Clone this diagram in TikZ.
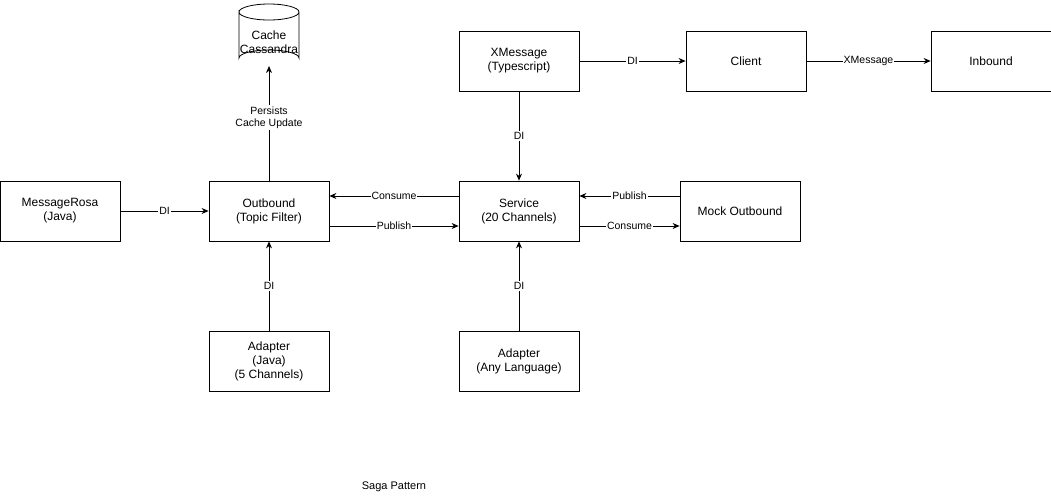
\documentclass[tikz,border=0pt]{standalone}
\usepackage{fontspec}
\setmainfont{Liberation Sans}
\usetikzlibrary{arrows.meta}
\begin{document}
\begin{tikzpicture}[x=1pt,y=-1pt,
  box/.style={draw,line width=0.8pt,minimum width=120pt,minimum height=60pt,align=center,font=\fontsize{12}{14}\selectfont},
  arr/.style={draw,line width=0.8pt,-{Stealth[length=7pt,width=6pt]}},
  lbl/.style={fill=white,inner sep=1pt,align=center,font=\fontsize{10.5}{12.5}\selectfont}]
\useasboundingbox (0,0) rectangle (1051,501);
\node[box] (rosa) at (60,211) {MessageRosa\\(Java)};
\node[box] (out) at (269,211) {Outbound\\(Topic Filter)};
\node[box] (svc) at (519,211) {Service\\(20 Channels)};
\node[box] (mock) at (740,211) {Mock Outbound};
\node[box] (xm) at (519,61) {XMessage\\(Typescript)};
\node[box] (cl) at (746,61) {Client};
\node[box] (in) at (991,61) {Inbound};
\node[box] (aj) at (269,361) {Adapter\\(Java)\\(5 Channels)};
\node[box] (aa) at (519,361) {Adapter\\(Any Language)};
% cylinder
\draw[line width=0.8pt] (239,12) arc[start angle=180,end angle=360,x radius=30,y radius=8]
  arc[start angle=0,end angle=180,x radius=30,y radius=8] -- (239,58)
  arc[start angle=180,end angle=360,x radius=30,y radius=8] -- (299,12);
\coordinate (cyl) at (269,66);
\node[align=center,font=\fontsize{12}{14}\selectfont] (cyltxt) at (269,42) {Cache\\Cassandra};
\node[font=\fontsize{11}{13}\selectfont] (saga) at (394,487) {Saga Pattern};
\draw[arr] (rosa) -- node[lbl]{DI} (out);
\draw[arr] (out) -- node[lbl,pos=0.55]{Persists\\Cache Update} (cyl);
\draw[arr] (aj) -- node[lbl]{DI} (out);
\draw[arr] (svc.west|-0,196) -- node[lbl]{Consume} (out.east|-0,196);
\draw[arr] (out.east|-0,226) -- node[lbl]{Publish} (svc.west|-0,226);
\draw[arr] (mock.west|-0,196) -- node[lbl]{Publish} (svc.east|-0,196);
\draw[arr] (svc.east|-0,226) -- node[lbl]{Consume} (mock.west|-0,226);
\draw[arr] (xm) -- node[lbl]{DI} (cl);
\draw[arr] (cl) -- node[lbl]{XMessage} (in);
\draw[arr] (xm) -- node[lbl]{DI} (svc);
\draw[arr] (aa) -- node[lbl]{DI} (svc);
\end{tikzpicture}
\end{document}
